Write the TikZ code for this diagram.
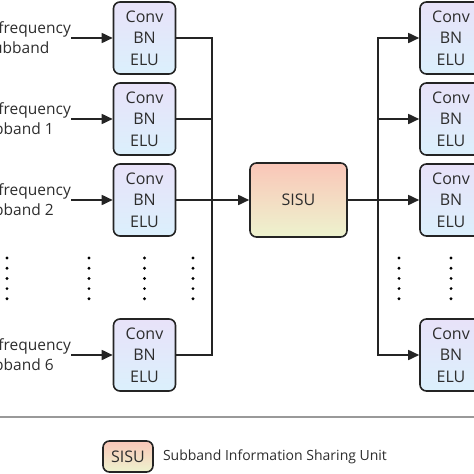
\documentclass[tikz,border=0pt]{standalone}
\usepackage{fontspec}
\setmainfont{Open Sans}
\usetikzlibrary{arrows.meta}
\definecolor{convtop}{RGB}{232,226,249}
\definecolor{convbot}{RGB}{219,240,252}
\definecolor{sisutop}{RGB}{250,198,184}
\definecolor{sisubot}{RGB}{237,243,206}
\definecolor{wire}{RGB}{36,36,36}
\definecolor{ink}{RGB}{45,45,45}
\tikzset{
  conv/.style={draw=wire, line width=1.6pt, rounded corners=6.5pt,
    top color=convtop, bottom color=convbot, minimum width=62pt,
    minimum height=72pt, inner sep=0pt, align=center, text=ink,
    font=\fontsize{16}{21.5}\selectfont},
  sisu/.style={conv, top color=sisutop, bottom color=sisubot,
    minimum width=97pt, minimum height=74pt},
  keybox/.style={sisu, minimum width=50pt, minimum height=31pt},
  band/.style={anchor=east, inner sep=0pt, align=center, text=ink,
    font=\fontsize{15.5}{20}\selectfont},
  flow/.style={-{Triangle[length=11pt,width=10pt]}, line width=1.7pt, draw=wire},
  wireline/.style={line width=1.7pt, draw=wire},
  vdots/.style={line width=3.2pt, line cap=round, dash pattern=on 0pt off 10.2pt}
}
\begin{document}
\begin{tikzpicture}[x=1pt,y=-1pt]
  \useasboundingbox (0,0) rectangle (474,474);
  \draw
    (144.5,38) node[conv] (lc1) {Conv\\BN\\ELU}
    (144.5,119) node[conv] (lc2) {Conv\\BN\\ELU}
    (144.5,200) node[conv] (lc3) {Conv\\BN\\ELU}
    (144.5,355) node[conv] (lc6) {Conv\\BN\\ELU}
    (298.5,200) node[sisu] (su) {SISU}
    (451,38) node[conv] (rc1) {Conv\\BN\\ELU}
    (451,119) node[conv] (rc2) {Conv\\BN\\ELU}
    (451,200) node[conv] (rc3) {Conv\\BN\\ELU}
    (451,355) node[conv] (rc6) {Conv\\BN\\ELU};
  \draw
    (71,38) node[band] (b0) {Low-frequency\\subband}
    (71,119) node[band] (b1) {High-frequency\\subband 1}
    (71,200) node[band] (b2) {High-frequency\\subband 2}
    (71,355) node[band] (b6) {High-frequency\\subband 6};
  \coordinate (lbus) at (212,200);
  \coordinate (rbus) at (378,200);
  \begin{scope}[flow]
    \draw (b0.east) to (lc1.west);
    \draw (b1.east) to (lc2.west);
    \draw (b2.east) to (lc3.west);
    \draw (b6.east) to (lc6.west);
    \draw (lc3.east) to (su.west);
    \draw (su.east) to (rc3.west);
    \draw (rbus) |- (rc1.west);
    \draw (rbus) |- (rc2.west);
    \draw (rbus) |- (rc6.west);
  \end{scope}
  \begin{scope}[wireline]
    \draw (lc1.east) -| (lbus);
    \draw (lc2.east) -| (lbus);
    \draw (lc6.east) -| (lbus);
  \end{scope}
  % dots between band 2 and band 6
  \draw[vdots] (7,258) -- (7,300);
  \draw[vdots] (89,258) -- (89,300);
  \draw[vdots] (144.5,258) -- (144.5,300);
  \draw[vdots] (193,258) -- (193,300);
  \draw[vdots] (399,258) -- (399,300);
  \draw[vdots] (451,258) -- (451,300);
  % legend
  \draw[line width=1.3pt, draw=gray!80] (0,417) -- (474,417);
  \node[keybox] (key) at (128,456.5) {SISU};
  \node[anchor=west, inner sep=0pt, text=ink, font=\fontsize{14}{16}\selectfont] (keytxt)
    at ([xshift=9pt]key.east) {Subband Information Sharing Unit};
\end{tikzpicture}
\end{document}
